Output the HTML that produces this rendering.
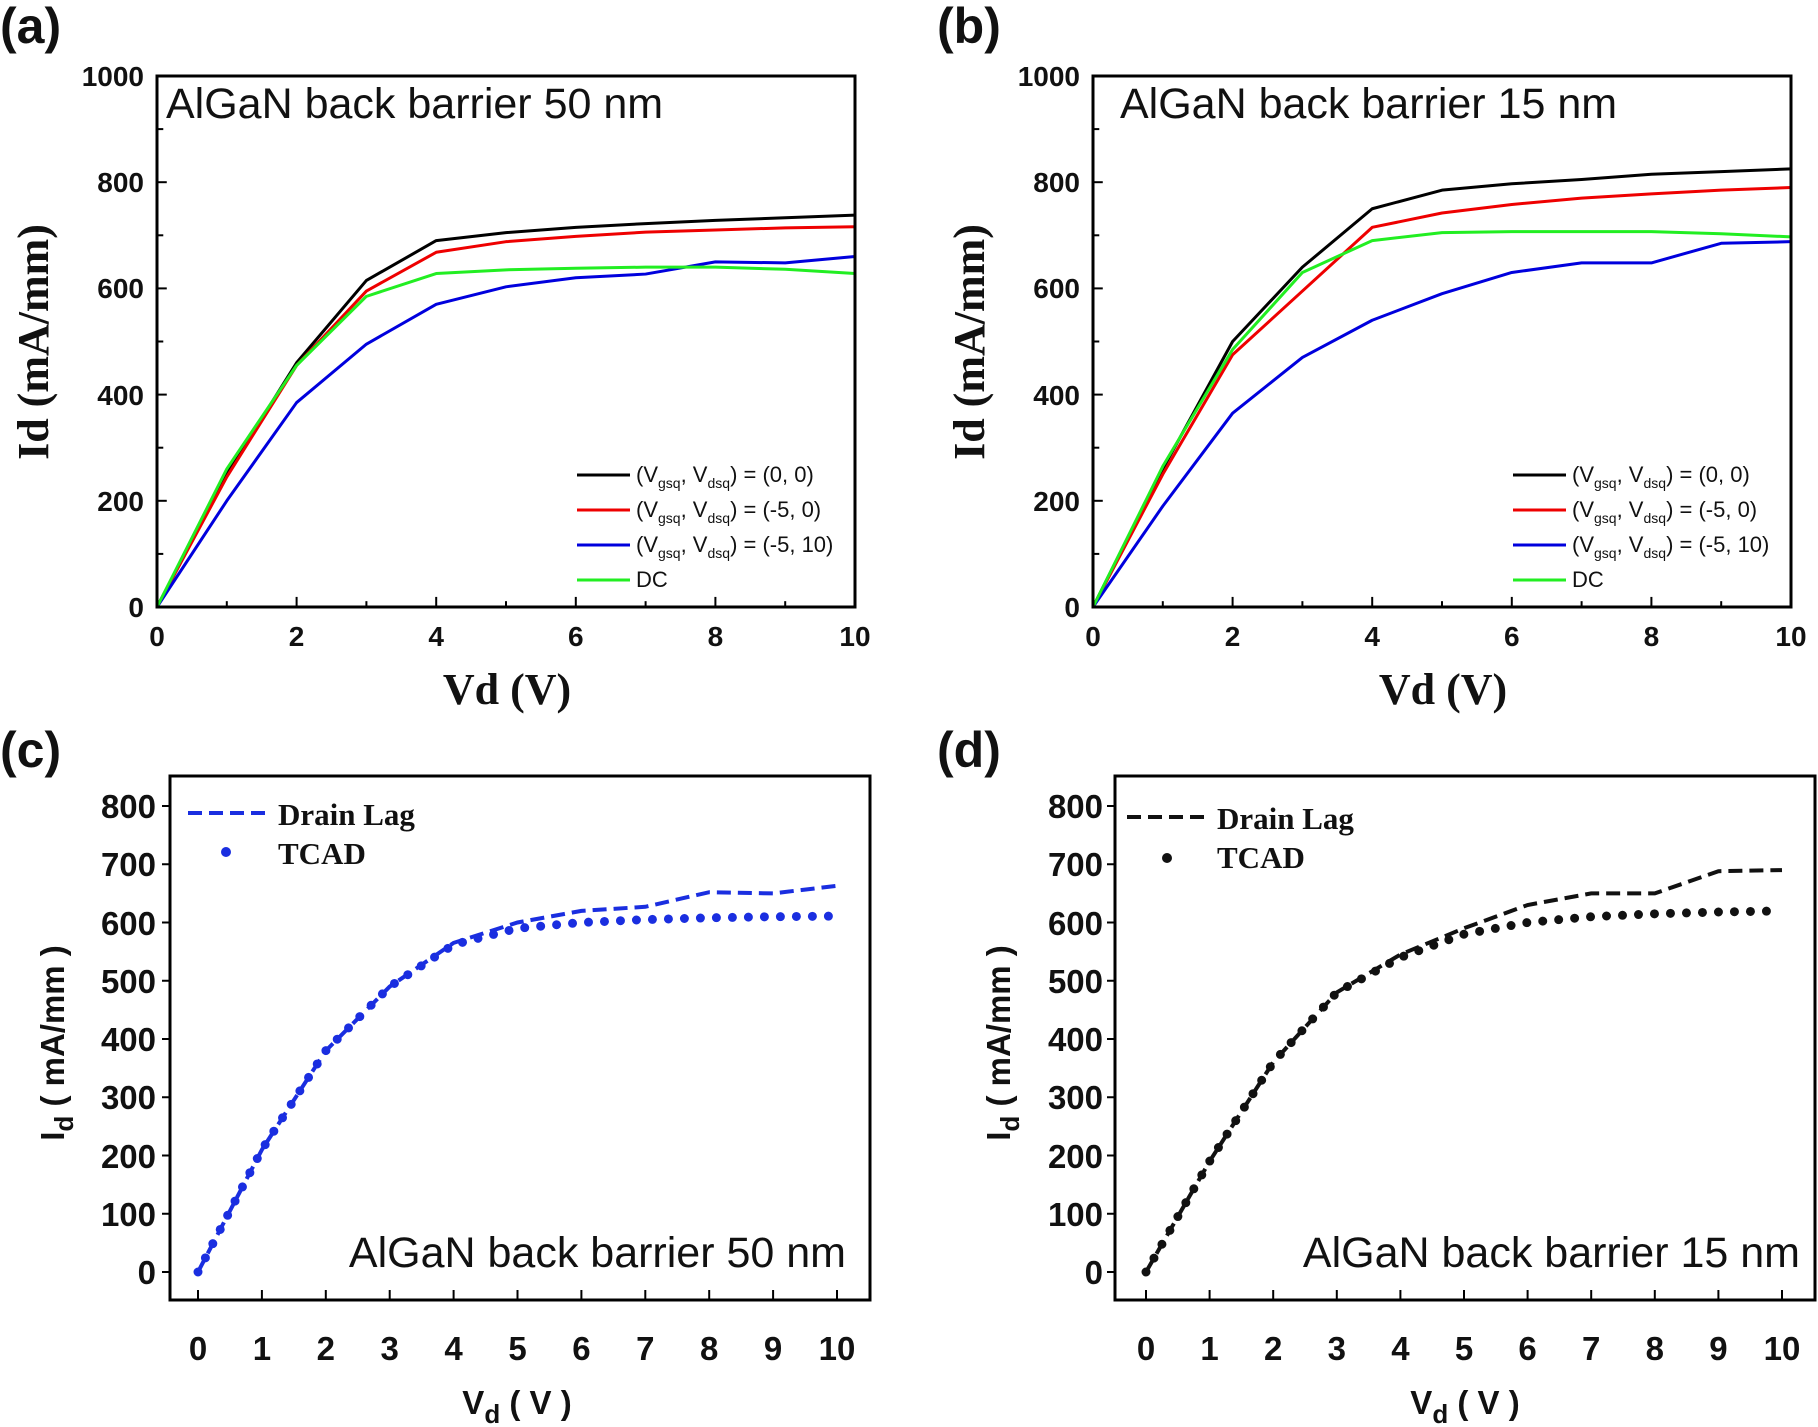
<!DOCTYPE html>
<html><head><meta charset="utf-8"><style>
html,body{margin:0;padding:0;background:#fff;}
svg{display:block;}
.tk{font-family:"Liberation Sans",sans-serif;font-weight:bold;font-size:28px;fill:#111;}
.tc{font-family:"Liberation Sans",sans-serif;font-weight:bold;font-size:33px;fill:#111;}
.ser{font-family:"Liberation Serif",serif;font-weight:bold;fill:#111;}
.ttl{font-family:"Liberation Sans",sans-serif;font-size:43px;fill:#111;}
.lg{font-family:"Liberation Sans",sans-serif;font-size:22px;fill:#111;}
.pl{font-family:"Liberation Sans",sans-serif;font-weight:bold;font-size:50px;fill:#111;}
.d line,.d polyline{vector-effect:non-scaling-stroke;}
</style></head><body>
<svg width="1818" height="1427" viewBox="0 0 1818 1427" xmlns="http://www.w3.org/2000/svg">
<text x="0" y="43" class="pl">(a)</text><text x="937" y="43" class="pl">(b)</text>
<text x="0" y="767" class="pl">(c)</text><text x="937" y="767" class="pl">(d)</text>

<!-- Panel a -->
<g class="d" transform="translate(157 607) scale(69.8 -0.531)" fill="none" stroke-width="3" stroke-linejoin="round">
<polyline stroke="#000" points="0,0 1,250 2,460 3,615 4,690 5,705 6,715 7,722 8,728 9,733 10,738"/>
<polyline stroke="#e00" points="0,0 1,245 2,455 3,595 4,668 5,688 6,698 7,706 8,710 9,714 10,716"/>
<polyline stroke="#00d" points="0,0 1,200 2,385 3,495 4,570 5,603 6,620 7,627 8,650 9,648 10,660"/>
<polyline stroke="#2e2" points="0,0 1,260 2,455 3,585 4,628 5,635 6,638 7,640 8,640 9,636 10,628"/>
<g stroke="#000" stroke-width="2">
<line x1="1" y1="0" x2="1" y2="11"/><line x1="2" y1="0" x2="2" y2="19"/><line x1="3" y1="0" x2="3" y2="11"/><line x1="4" y1="0" x2="4" y2="19"/><line x1="5" y1="0" x2="5" y2="11"/><line x1="6" y1="0" x2="6" y2="19"/><line x1="7" y1="0" x2="7" y2="11"/><line x1="8" y1="0" x2="8" y2="19"/><line x1="9" y1="0" x2="9" y2="11"/>
<line x1="0" y1="100" x2="0.09" y2="100"/><line x1="0" y1="200" x2="0.14" y2="200"/><line x1="0" y1="300" x2="0.09" y2="300"/><line x1="0" y1="400" x2="0.14" y2="400"/><line x1="0" y1="500" x2="0.09" y2="500"/><line x1="0" y1="600" x2="0.14" y2="600"/><line x1="0" y1="700" x2="0.09" y2="700"/><line x1="0" y1="800" x2="0.14" y2="800"/><line x1="0" y1="900" x2="0.09" y2="900"/>
</g></g>
<rect x="157" y="76" width="698" height="531" fill="none" stroke="#000" stroke-width="3"/>
<g class="tk" text-anchor="middle"><text x="157" y="646">0</text><text x="296.6" y="646">2</text><text x="436.2" y="646">4</text><text x="575.8" y="646">6</text><text x="715.4" y="646">8</text><text x="855" y="646">10</text></g>
<g class="tk" text-anchor="end"><text x="144" y="617">0</text><text x="144" y="511">200</text><text x="144" y="405">400</text><text x="144" y="298">600</text><text x="144" y="192">800</text><text x="144" y="86">1000</text></g>
<text x="166" y="118" class="ttl">AlGaN back barrier 50 nm</text>
<text x="507" y="704" class="ser" font-size="44" text-anchor="middle">Vd (V)</text>
<text transform="translate(48 342) rotate(-90)" class="ser" font-size="44" text-anchor="middle">Id (mA/mm)</text>
<g stroke-width="3"><line x1="577" y1="475" x2="630" y2="475" stroke="#000"/><line x1="577" y1="510" x2="630" y2="510" stroke="#e00"/><line x1="577" y1="545" x2="630" y2="545" stroke="#00d"/><line x1="577" y1="580" x2="630" y2="580" stroke="#2e2"/></g>
<text x="636" y="482" class="lg">(V<tspan font-size="14" dy="6">gsq</tspan><tspan dy="-6">, V</tspan><tspan font-size="14" dy="6">dsq</tspan><tspan dy="-6">) = (0, 0)</tspan></text>
<text x="636" y="517" class="lg">(V<tspan font-size="14" dy="6">gsq</tspan><tspan dy="-6">, V</tspan><tspan font-size="14" dy="6">dsq</tspan><tspan dy="-6">) = (-5, 0)</tspan></text>
<text x="636" y="552" class="lg">(V<tspan font-size="14" dy="6">gsq</tspan><tspan dy="-6">, V</tspan><tspan font-size="14" dy="6">dsq</tspan><tspan dy="-6">) = (-5, 10)</tspan></text>
<text x="636" y="587" class="lg">DC</text>

<!-- Panel b -->
<g class="d" transform="translate(1093 607) scale(69.8 -0.531)" fill="none" stroke-width="3" stroke-linejoin="round">
<polyline stroke="#000" points="0,0 1,260 2,500 3,640 4,750 5,785 6,797 7,805 8,815 9,820 10,825"/>
<polyline stroke="#e00" points="0,0 1,250 2,475 3,595 4,715 5,742 6,758 7,770 8,778 9,785 10,790"/>
<polyline stroke="#00d" points="0,0 1,190 2,365 3,470 4,540 5,590 6,630 7,648 8,648 9,685 10,688"/>
<polyline stroke="#2e2" points="0,0 1,265 2,485 3,630 4,690 5,705 6,707 7,707 8,707 9,703 10,697"/>
<g stroke="#000" stroke-width="2">
<line x1="1" y1="0" x2="1" y2="11"/><line x1="2" y1="0" x2="2" y2="19"/><line x1="3" y1="0" x2="3" y2="11"/><line x1="4" y1="0" x2="4" y2="19"/><line x1="5" y1="0" x2="5" y2="11"/><line x1="6" y1="0" x2="6" y2="19"/><line x1="7" y1="0" x2="7" y2="11"/><line x1="8" y1="0" x2="8" y2="19"/><line x1="9" y1="0" x2="9" y2="11"/>
<line x1="0" y1="100" x2="0.09" y2="100"/><line x1="0" y1="200" x2="0.14" y2="200"/><line x1="0" y1="300" x2="0.09" y2="300"/><line x1="0" y1="400" x2="0.14" y2="400"/><line x1="0" y1="500" x2="0.09" y2="500"/><line x1="0" y1="600" x2="0.14" y2="600"/><line x1="0" y1="700" x2="0.09" y2="700"/><line x1="0" y1="800" x2="0.14" y2="800"/><line x1="0" y1="900" x2="0.09" y2="900"/>
</g></g>
<rect x="1093" y="76" width="698" height="531" fill="none" stroke="#000" stroke-width="3"/>
<g class="tk" text-anchor="middle"><text x="1093" y="646">0</text><text x="1232.6" y="646">2</text><text x="1372.2" y="646">4</text><text x="1511.8" y="646">6</text><text x="1651.4" y="646">8</text><text x="1791" y="646">10</text></g>
<g class="tk" text-anchor="end"><text x="1080" y="617">0</text><text x="1080" y="511">200</text><text x="1080" y="405">400</text><text x="1080" y="298">600</text><text x="1080" y="192">800</text><text x="1080" y="86">1000</text></g>
<text x="1120" y="118" class="ttl">AlGaN back barrier 15 nm</text>
<text x="1443" y="704" class="ser" font-size="44" text-anchor="middle">Vd (V)</text>
<text transform="translate(984 342) rotate(-90)" class="ser" font-size="44" text-anchor="middle">Id (mA/mm)</text>
<g stroke-width="3"><line x1="1513" y1="475" x2="1566" y2="475" stroke="#000"/><line x1="1513" y1="510" x2="1566" y2="510" stroke="#e00"/><line x1="1513" y1="545" x2="1566" y2="545" stroke="#00d"/><line x1="1513" y1="580" x2="1566" y2="580" stroke="#2e2"/></g>
<text x="1572" y="482" class="lg">(V<tspan font-size="14" dy="6">gsq</tspan><tspan dy="-6">, V</tspan><tspan font-size="14" dy="6">dsq</tspan><tspan dy="-6">) = (0, 0)</tspan></text>
<text x="1572" y="517" class="lg">(V<tspan font-size="14" dy="6">gsq</tspan><tspan dy="-6">, V</tspan><tspan font-size="14" dy="6">dsq</tspan><tspan dy="-6">) = (-5, 0)</tspan></text>
<text x="1572" y="552" class="lg">(V<tspan font-size="14" dy="6">gsq</tspan><tspan dy="-6">, V</tspan><tspan font-size="14" dy="6">dsq</tspan><tspan dy="-6">) = (-5, 10)</tspan></text>
<text x="1572" y="587" class="lg">DC</text>

<!-- Panel c -->
<polyline fill="none" stroke="#1a2ee0" stroke-width="9" stroke-linecap="round" stroke-dasharray="0,16" points="198,1272 261.9,1149.7 325.8,1050.7 389.7,986.6 453.6,944.6 517.5,928.3 581.4,922.5 645.3,919.6 709.2,917.8 773.1,916.7 837,916.1"/>
<polyline fill="none" stroke="#1a2ee0" stroke-width="4" stroke-dasharray="14,7" points="198,1272 261.9,1149.7 325.8,1050.7 389.7,986.6 453.6,942.9 517.5,922.5 581.4,910.9 645.3,906.8 709.2,892.2 773.1,893.4 837,885.8"/>
<rect x="170" y="776" width="700" height="524" fill="none" stroke="#000" stroke-width="3"/>
<g stroke="#000" stroke-width="2">
<line x1="198" y1="1300" x2="198" y2="1290"/><line x1="261.9" y1="1300" x2="261.9" y2="1290"/><line x1="325.8" y1="1300" x2="325.8" y2="1290"/><line x1="389.7" y1="1300" x2="389.7" y2="1290"/><line x1="453.6" y1="1300" x2="453.6" y2="1290"/><line x1="517.5" y1="1300" x2="517.5" y2="1290"/><line x1="581.4" y1="1300" x2="581.4" y2="1290"/><line x1="645.3" y1="1300" x2="645.3" y2="1290"/><line x1="709.2" y1="1300" x2="709.2" y2="1290"/><line x1="773.1" y1="1300" x2="773.1" y2="1290"/><line x1="837" y1="1300" x2="837" y2="1290"/>
<line x1="162" y1="1272" x2="170" y2="1272"/><line x1="162" y1="1213.75" x2="170" y2="1213.75"/><line x1="162" y1="1155.5" x2="170" y2="1155.5"/><line x1="162" y1="1097.25" x2="170" y2="1097.25"/><line x1="162" y1="1039" x2="170" y2="1039"/><line x1="162" y1="980.75" x2="170" y2="980.75"/><line x1="162" y1="922.5" x2="170" y2="922.5"/><line x1="162" y1="864.25" x2="170" y2="864.25"/><line x1="162" y1="806" x2="170" y2="806"/>
</g>
<g class="tc" text-anchor="middle"><text x="198" y="1360">0</text><text x="261.9" y="1360">1</text><text x="325.8" y="1360">2</text><text x="389.7" y="1360">3</text><text x="453.6" y="1360">4</text><text x="517.5" y="1360">5</text><text x="581.4" y="1360">6</text><text x="645.3" y="1360">7</text><text x="709.2" y="1360">8</text><text x="773.1" y="1360">9</text><text x="837" y="1360">10</text></g>
<g class="tc" text-anchor="end"><text x="156" y="1284">0</text><text x="156" y="1226">100</text><text x="156" y="1168">200</text><text x="156" y="1109">300</text><text x="156" y="1051">400</text><text x="156" y="993">500</text><text x="156" y="935">600</text><text x="156" y="876">700</text><text x="156" y="818">800</text></g>
<text x="846" y="1267" class="ttl" text-anchor="end">AlGaN back barrier 50 nm</text>
<line x1="188" y1="813" x2="267" y2="813" stroke="#1a2ee0" stroke-width="4" stroke-dasharray="14,7"/>
<text x="278" y="825" class="ser" font-size="31">Drain Lag</text>
<circle cx="226" cy="852" r="5" fill="#1a2ee0"/>
<text x="278" y="864" class="ser" font-size="31">TCAD</text>
<text x="517" y="1414" class="tc" text-anchor="middle" font-weight="normal" font-size="36">V<tspan font-size="26" dy="9">d</tspan><tspan dy="-9"> ( V )</tspan></text>
<text transform="translate(64 1043) rotate(-90)" class="tc" text-anchor="middle" font-size="36">I<tspan font-size="26" dy="9">d</tspan><tspan dy="-9"> ( mA/mm )</tspan></text>

<!-- Panel d -->
<polyline fill="none" stroke="#111" stroke-width="9" stroke-linecap="round" stroke-dasharray="0,16" points="1146,1272 1209.6,1161.3 1273.2,1062.3 1336.8,992.4 1400.4,957.4 1464,934.2 1527.6,922.5 1591.2,916.7 1654.8,913.8 1718.4,912 1782,910.9"/>
<polyline fill="none" stroke="#111" stroke-width="4" stroke-dasharray="14,7" points="1146,1272 1209.6,1161.3 1273.2,1062.3 1336.8,992.4 1400.4,954.5 1464,928.3 1527.6,905 1591.2,893.4 1654.8,893.4 1718.4,871.2 1782,870.1"/>
<rect x="1115" y="776" width="700" height="524" fill="none" stroke="#000" stroke-width="3"/>
<g stroke="#000" stroke-width="2">
<line x1="1146" y1="1300" x2="1146" y2="1290"/><line x1="1209.6" y1="1300" x2="1209.6" y2="1290"/><line x1="1273.2" y1="1300" x2="1273.2" y2="1290"/><line x1="1336.8" y1="1300" x2="1336.8" y2="1290"/><line x1="1400.4" y1="1300" x2="1400.4" y2="1290"/><line x1="1464" y1="1300" x2="1464" y2="1290"/><line x1="1527.6" y1="1300" x2="1527.6" y2="1290"/><line x1="1591.2" y1="1300" x2="1591.2" y2="1290"/><line x1="1654.8" y1="1300" x2="1654.8" y2="1290"/><line x1="1718.4" y1="1300" x2="1718.4" y2="1290"/><line x1="1782" y1="1300" x2="1782" y2="1290"/>
<line x1="1107" y1="1272" x2="1115" y2="1272"/><line x1="1107" y1="1213.75" x2="1115" y2="1213.75"/><line x1="1107" y1="1155.5" x2="1115" y2="1155.5"/><line x1="1107" y1="1097.25" x2="1115" y2="1097.25"/><line x1="1107" y1="1039" x2="1115" y2="1039"/><line x1="1107" y1="980.75" x2="1115" y2="980.75"/><line x1="1107" y1="922.5" x2="1115" y2="922.5"/><line x1="1107" y1="864.25" x2="1115" y2="864.25"/><line x1="1107" y1="806" x2="1115" y2="806"/>
</g>
<g class="tc" text-anchor="middle"><text x="1146" y="1360">0</text><text x="1209.6" y="1360">1</text><text x="1273.2" y="1360">2</text><text x="1336.8" y="1360">3</text><text x="1400.4" y="1360">4</text><text x="1464" y="1360">5</text><text x="1527.6" y="1360">6</text><text x="1591.2" y="1360">7</text><text x="1654.8" y="1360">8</text><text x="1718.4" y="1360">9</text><text x="1782" y="1360">10</text></g>
<g class="tc" text-anchor="end"><text x="1103" y="1284">0</text><text x="1103" y="1226">100</text><text x="1103" y="1168">200</text><text x="1103" y="1109">300</text><text x="1103" y="1051">400</text><text x="1103" y="993">500</text><text x="1103" y="935">600</text><text x="1103" y="876">700</text><text x="1103" y="818">800</text></g>
<text x="1800" y="1267" class="ttl" text-anchor="end">AlGaN back barrier 15 nm</text>
<line x1="1127" y1="817" x2="1206" y2="817" stroke="#111" stroke-width="4" stroke-dasharray="14,7"/>
<text x="1217" y="829" class="ser" font-size="31">Drain Lag</text>
<circle cx="1167" cy="858" r="5" fill="#111"/>
<text x="1217" y="868" class="ser" font-size="31">TCAD</text>
<text x="1465" y="1414" class="tc" text-anchor="middle" font-weight="normal" font-size="36">V<tspan font-size="26" dy="9">d</tspan><tspan dy="-9"> ( V )</tspan></text>
<text transform="translate(1010 1043) rotate(-90)" class="tc" text-anchor="middle" font-size="36">I<tspan font-size="26" dy="9">d</tspan><tspan dy="-9"> ( mA/mm )</tspan></text>
</svg>
</body></html>
